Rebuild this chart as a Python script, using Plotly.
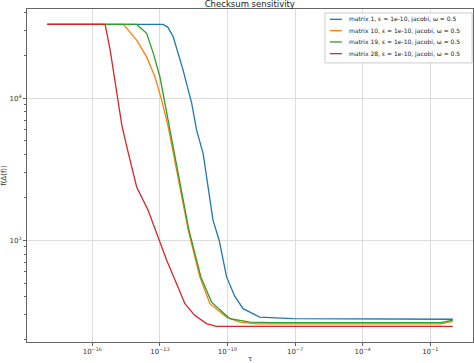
import plotly.graph_objects as go

series_names = [
    "matrix 1, ε = 1e-10, jacobi, ω = 0.5",
    "matrix 10, ε = 1e-10, jacobi, ω = 0.5",
    "matrix 19, ε = 1e-10, jacobi, ω = 0.5",
    "matrix 28, ε = 1e-10, jacobi, ω = 0.5",
]
series_colors = ["#1f77b4", "#ff7f0e", "#2ca02c", "#d62728"]

tau_m1 = [1e-18, 1.35e-13, 2.24e-13, 3.9e-13, 1.07e-12, 2.57e-12, 4.27e-12, 8.3e-12,
          2.29e-11, 4.27e-11, 9.1e-11, 2.1e-10, 4.9e-10, 2.69e-9, 7.8e-8, 1.0]
val_m1 = [33000, 33000, 31600, 27040, 15740, 9226, 5957, 4074,
          1380, 1000, 552, 404, 330, 288, 281, 278]

tau_m10 = [1e-18, 2.4e-15, 9.3e-15, 2.57e-14, 6.0e-14, 1.2e-13, 2.34e-13, 5.5e-13,
           1.82e-12, 5.9e-12, 1.66e-11, 9.1e-11, 3.5e-10, 2e-9, 0.3, 1.0]
val_m10 = [33000, 33000, 25590, 19500, 14130, 9683, 6281, 3112,
           1175, 552, 358, 288, 265, 258, 258, 269]

tau_m19 = [1e-18, 9.3e-15, 2.57e-14, 5.1e-14, 1e-13, 1.66e-13, 2.75e-13, 6.0e-13,
           1.95e-12, 6.6e-12, 1.95e-11, 1.26e-10, 1e-9, 1e-8, 0.3, 1.0]
val_m19 = [33000, 33000, 28580, 20650, 14130, 9226, 6152, 3112,
           1175, 552, 367, 281, 265, 263, 263, 274]

tau_m28 = [1e-18, 3.7e-16, 6.2e-16, 1.2e-15, 2.04e-15, 3.4e-15, 9.3e-15, 3.0e-14,
           8.5e-14, 2.0e-13, 5.5e-13, 1.29e-12, 3.5e-12, 1.17e-11, 3.2e-11, 1.0]
val_m28 = [33000, 33000, 21780, 10790, 6457, 4539, 2371, 1626,
           1054, 723, 495, 358, 296, 259, 248, 248]

x_tickvals = [1e-16, 1e-13, 1e-10, 1e-7, 1e-4, 1e-1]
x_ticktext = ["10<sup>−16</sup>", "10<sup>−13</sup>", "10<sup>−10</sup>",
              "10<sup>−7</sup>", "10<sup>−4</sup>", "10<sup>−1</sup>"]
y_tickvals = [1e3, 1e4]
y_ticktext = ["10<sup>3</sup>", "10<sup>4</sup>"]

taus = [tau_m1, tau_m10, tau_m19, tau_m28]
vals = [val_m1, val_m10, val_m19, val_m28]

fig = go.Figure()
for name, color, t, v in zip(series_names, series_colors, taus, vals):
    fig.add_trace(go.Scatter(x=t, y=v, mode="lines", name=name, showlegend=False,
                             line=dict(color=color, width=1.3)))

axis_common = dict(
    showline=True, linecolor="#666", linewidth=1, mirror=True,
    showgrid=True, gridcolor="#dcdcdc", gridwidth=1,
    ticks="outside", ticklen=3, tickcolor="#666",
    tickfont=dict(family="DejaVu Sans", size=7, color="#333"),
    zeroline=False,
)

fig.update_xaxes(type="log", range=[-18.9, 0.9], tickvals=x_tickvals, ticktext=x_ticktext,
                 title=dict(text="τ", font=dict(family="DejaVu Sans", size=7, color="#333"), standoff=2),
                 **axis_common)
fig.update_yaxes(type="log", range=[2.284, 4.627], tickvals=y_tickvals, ticktext=y_ticktext,
                 minor=dict(ticks="outside", ticklen=2, tickcolor="#666", showgrid=False,
                            tickvals=[200, 300, 400, 500, 600, 700, 800, 900,
                                      2000, 3000, 4000, 5000, 6000, 7000, 8000, 9000,
                                      20000, 30000, 40000]),
                 title=dict(text="f(Δ(f))", font=dict(family="DejaVu Sans", size=7, color="#333"), standoff=4),
                 **axis_common)

# custom compact legend (matplotlib-like)
leg_x0, leg_x1, leg_y0, leg_y1 = 0.668, 0.998, 0.838, 0.988
leg_rows = [0.969, 0.935, 0.901, 0.866]
shapes = [dict(type="rect", xref="paper", yref="paper", x0=leg_x0, x1=leg_x1, y0=leg_y0, y1=leg_y1,
               fillcolor="rgba(255,255,255,0.85)", line=dict(color="#cccccc", width=1), layer="above")]
annotations = []
for name, color, yr in zip(series_names, series_colors, leg_rows):
    shapes.append(dict(type="line", xref="paper", yref="paper", x0=0.679, x1=0.706, y0=yr, y1=yr,
                       line=dict(color=color, width=1.3), layer="above"))
    annotations.append(dict(xref="paper", yref="paper", x=0.717, y=yr, xanchor="left", yanchor="middle",
                            text=name, showarrow=False,
                            font=dict(family="DejaVu Sans", size=6, color="#222")))

fig.update_layout(
    width=474, height=363,
    margin=dict(l=27, r=1, t=9, b=21),
    paper_bgcolor="white", plot_bgcolor="white",
    title=dict(text="Checksum sensitivity", x=0.527, xanchor="center", y=0.998, yanchor="top",
               font=dict(family="DejaVu Sans", size=8.5, color="#222")),
    shapes=shapes,
    annotations=annotations,
    showlegend=False,
)

fig.write_html("out.html", config={"displayModeBar": False})

with open("out.html", "r", encoding="utf-8") as f:
    html = f.read()
html = html.replace("<body>", '<body style="margin:0;padding:0;overflow:hidden">', 1)
with open("out.html", "w", encoding="utf-8") as f:
    f.write(html)
